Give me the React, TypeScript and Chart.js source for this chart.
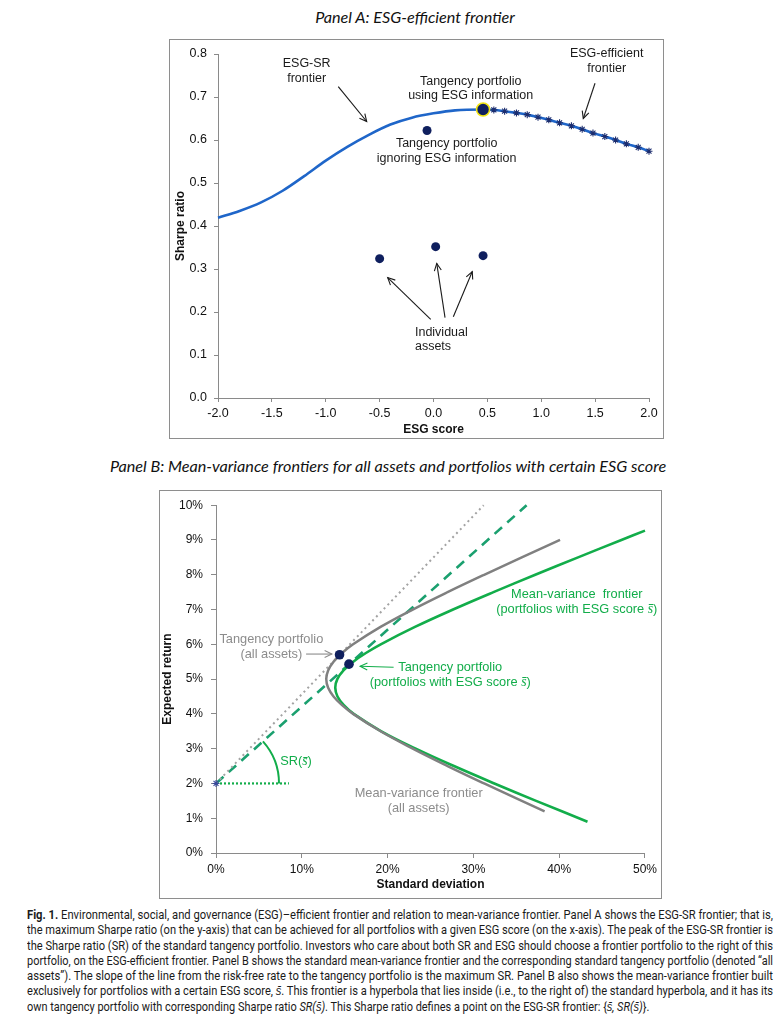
import React, { useEffect, useLayoutEffect, useRef, useState } from "react";
import { Chart, registerables } from "chart.js";

Chart.register(...registerables);

// ---------------- Panel A data ----------------
const esgSrX = [-2.0, -1.8, -1.6, -1.4, -1.2, -1.0, -0.8, -0.6, -0.4, -0.2, 0.0, 0.2, 0.46];
const esgSrY = [0.419, 0.435, 0.455, 0.482, 0.516, 0.552, 0.584, 0.612, 0.636, 0.652, 0.662, 0.669, 0.671];
const efficientX = [0.56, 0.66, 0.77, 0.87, 0.97, 1.07, 1.17, 1.28, 1.38, 1.48, 1.59, 1.69, 1.79, 1.9, 2.0];
const efficientY = [0.67, 0.667, 0.663, 0.659, 0.653, 0.647, 0.64, 0.633, 0.625, 0.616, 0.608, 0.6, 0.591, 0.583, 0.574];
const tangencyEsgX = [0.46];
const tangencyEsgY = [0.671];
const tangencyIgnoreX = [-0.06];
const tangencyIgnoreY = [0.622];
const assetsX = [-0.5, 0.02, 0.46];
const assetsY = [0.324, 0.352, 0.331];
const esgTicks = [-2.0, -1.5, -1.0, -0.5, 0.0, 0.5, 1.0, 1.5, 2.0];
const srTicks = [0.0, 0.1, 0.2, 0.3, 0.4, 0.5, 0.6, 0.7, 0.8];

// ---------------- Panel B data (percent) ----------------
const greyRet = [1.2, 1.5, 2.0, 2.5, 3.0, 3.5, 4.0, 4.25, 4.5, 4.75, 5.0, 5.25, 5.5, 5.75, 6.0, 6.5, 7.0, 7.5, 8.0, 8.5, 9.0];
const greySd = [38.3, 35.64, 31.25, 26.99, 22.93, 19.18, 15.98, 14.69, 13.7, 13.07, 12.85, 13.07, 13.7, 14.69, 15.98, 19.18, 22.93, 26.99, 31.25, 35.64, 40.1];
const greenRet = [0.9, 1.5, 2.0, 2.5, 3.0, 3.5, 4.0, 4.25, 4.5, 4.755, 5.0, 5.25, 5.5, 5.75, 6.0, 6.5, 7.0, 7.5, 8.0, 8.5, 9.0, 9.27];
const greenSd = [43.3, 37.31, 32.44, 27.73, 23.28, 19.27, 16.05, 14.9, 14.16, 13.9, 14.14, 14.86, 16.0, 17.47, 19.2, 23.19, 27.63, 32.34, 37.21, 42.2, 47.25, 50.0];
const tangencySd = [14.4, 15.5];
const tangencyRet = [5.7, 5.43];
const riskFreeSd = [0];
const riskFreeRet = [2];
const cmlAllSd = [0, 31.2];
const cmlAllRet = [2, 10];
const cmlEsgSd = [0, 36.2];
const cmlEsgRet = [2, 10];
const rfHorizSd = [0, 8.5];
const rfHorizRet = [2, 2];
const sdTicks = [0, 10, 20, 30, 40, 50];
const retTicks = [0, 1, 2, 3, 4, 5, 6, 7, 8, 9, 10];

const FONT = "'Liberation Sans', Arial, sans-serif";
const NAVY = "#0f1f5e";
const AXIS = "#8a8a8a";
const GREEN = "#12ad4a";
const GREY = "#808080";

const pts = (xs: number[], ys: number[]) => xs.map((x, i) => ({ x, y: ys[i] }));

type Seg = { t: string; it?: boolean };
type TextAnn = { kind: "text"; x: number; y: number; lines: Seg[][]; color: string; align?: "center" | "left" };
type ArrowAnn = { kind: "arrow"; x1: number; y1: number; x2: number; y2: number; color: string };
type Ann = TextAnn | ArrowAnn;

function drawArrow(ctx: CanvasRenderingContext2D, x1: number, y1: number, x2: number, y2: number, color: string) {
  ctx.save();
  ctx.strokeStyle = color;
  ctx.lineWidth = 1.1;
  ctx.beginPath();
  ctx.moveTo(x1, y1);
  ctx.lineTo(x2, y2);
  ctx.stroke();
  const a = Math.atan2(y2 - y1, x2 - x1);
  const h = 8;
  ctx.beginPath();
  ctx.moveTo(x2 - h * Math.cos(a - 0.45), y2 - h * Math.sin(a - 0.45));
  ctx.lineTo(x2, y2);
  ctx.lineTo(x2 - h * Math.cos(a + 0.45), y2 - h * Math.sin(a + 0.45));
  ctx.stroke();
  ctx.restore();
}

function drawRich(ctx: CanvasRenderingContext2D, segs: Seg[], x: number, y: number, size: number, color: string, align: "center" | "left") {
  const fonts = segs.map((s) => (s.it ? `italic ${size + 1}px 'Liberation Serif', serif` : `${size}px ${FONT}`));
  const widths = segs.map((s, i) => {
    ctx.font = fonts[i];
    return ctx.measureText(s.t).width;
  });
  const total = widths.reduce((a, b) => a + b, 0);
  let cx = align === "center" ? x - total / 2 : x;
  ctx.fillStyle = color;
  ctx.textBaseline = "middle";
  ctx.textAlign = "left";
  segs.forEach((s, i) => {
    ctx.font = fonts[i];
    ctx.fillText(s.t, cx, y);
    cx += widths[i];
  });
}

function annotationPlugin(id: string, anns: Ann[], size: number, lineGap: number, xTitle: string, yTitle: string, xTitleOff: number, yTitleOff: number, extra?: (chart: any) => void) {
  return {
    id,
    afterDatasetsDraw(chart: any) {
      const ctx: CanvasRenderingContext2D = chart.ctx;
      const xs = chart.scales.x;
      const ys = chart.scales.y;
      if (extra) extra(chart);
      anns.forEach((a) => {
        if (a.kind === "arrow") {
          drawArrow(ctx, xs.getPixelForValue(a.x1), ys.getPixelForValue(a.y1), xs.getPixelForValue(a.x2), ys.getPixelForValue(a.y2), a.color);
        } else {
          const px = xs.getPixelForValue(a.x);
          const py = ys.getPixelForValue(a.y);
          a.lines.forEach((ln, i) => drawRich(ctx, ln, px, py + i * lineGap, size, a.color, a.align || "center"));
        }
      });
      const area = chart.chartArea;
      ctx.save();
      ctx.fillStyle = "#111";
      ctx.font = `bold 12px ${FONT}`;
      ctx.textAlign = "center";
      ctx.textBaseline = "middle";
      ctx.fillText(xTitle, (area.left + area.right) / 2, area.bottom + xTitleOff);
      ctx.translate(area.left - yTitleOff, (area.top + area.bottom) / 2);
      ctx.rotate(-Math.PI / 2);
      ctx.fillText(yTitle, 0, 0);
      ctx.restore();
    },
  };
}

function axisOpts(ticks: number[], min: number, max: number, fmt: (v: number) => string, size: number, tickLen: number, pad: number, fit: (s: any) => void) {
  return {
    type: "linear" as const,
    min,
    max,
    afterBuildTicks: (scale: any) => {
      scale.ticks = ticks.map((v) => ({ value: v }));
    },
    afterFit: fit,
    grid: { display: true, drawOnChartArea: false, drawTicks: true, tickLength: tickLen, color: AXIS, lineWidth: 1 },
    border: { display: true, color: AXIS, width: 1 },
    ticks: { autoSkip: false, maxRotation: 0, padding: pad, color: "#111", font: { family: FONT, size }, callback: (v: any) => fmt(Number(v)) },
  };
}

const panelAAnns: Ann[] = [
  { kind: "text", x: -1.177, y: 0.777, lines: [[{ t: "ESG-SR" }], [{ t: "frontier" }]], color: "#1a1a1a" },
  { kind: "arrow", x1: -0.884, y1: 0.724, x2: -0.62, y2: 0.643, color: "#1a1a1a" },
  { kind: "text", x: 1.607, y: 0.8, lines: [[{ t: "ESG-efficient" }], [{ t: "frontier" }]], color: "#1a1a1a" },
  { kind: "arrow", x1: 1.499, y1: 0.732, x2: 1.39, y2: 0.65, color: "#1a1a1a" },
  { kind: "text", x: 0.345, y: 0.736, lines: [[{ t: "Tangency portfolio" }], [{ t: "using ESG information" }]], color: "#1a1a1a" },
  { kind: "text", x: 0.122, y: 0.591, lines: [[{ t: "Tangency portfolio" }], [{ t: "ignoring ESG information" }]], color: "#1a1a1a" },
  { kind: "text", x: -0.172, y: 0.153, lines: [[{ t: "Individual" }], [{ t: "assets" }]], color: "#1a1a1a", align: "left" },
  { kind: "arrow", x1: -0.026, y1: 0.183, x2: -0.425, y2: 0.28, color: "#1a1a1a" },
  { kind: "arrow", x1: 0.107, y1: 0.187, x2: 0.03, y2: 0.313, color: "#1a1a1a" },
  { kind: "arrow", x1: 0.184, y1: 0.189, x2: 0.36, y2: 0.294, color: "#1a1a1a" },
];

const S_BAR = "s\u0304";

const panelBAnns: Ann[] = [
  { kind: "text", x: 6.45, y: 6.15, lines: [[{ t: "Tangency portfolio" }], [{ t: "(all assets)" }]], color: "#8c8c8c" },
  { kind: "arrow", x1: 10.5, y1: 5.72, x2: 13.5, y2: 5.72, color: "#8c8c8c" },
  { kind: "text", x: 27.3, y: 5.34, lines: [[{ t: "Tangency portfolio" }], [{ t: "(portfolios with ESG score " }, { t: S_BAR, it: true }, { t: ")" }]], color: GREEN },
  { kind: "arrow", x1: 20.7, y1: 5.34, x2: 16.8, y2: 5.37, color: GREEN },
  { kind: "text", x: 42.05, y: 7.44, lines: [[{ t: "Mean-variance  frontier" }], [{ t: "(portfolios with ESG score " }, { t: S_BAR, it: true }, { t: ")" }]], color: GREEN },
  { kind: "text", x: 23.62, y: 1.71, lines: [[{ t: "Mean-variance frontier" }], [{ t: "(all assets)" }]], color: "#8c8c8c" },
  { kind: "text", x: 9.33, y: 2.63, lines: [[{ t: "SR(" }, { t: S_BAR, it: true }, { t: ")" }]], color: GREEN },
];

function panelAConfig(): any {
  return {
    type: "scatter",
    data: {
      datasets: [
        { data: pts(tangencyEsgX, tangencyEsgY), pointRadius: 6.5, backgroundColor: NAVY, borderColor: "#f0e412", borderWidth: 1.6, clip: false },
        { data: pts(tangencyIgnoreX, tangencyIgnoreY), pointRadius: 4.5, backgroundColor: NAVY, borderColor: NAVY, borderWidth: 0 },
        { data: pts(assetsX, assetsY), pointRadius: 4.5, backgroundColor: NAVY, borderColor: NAVY, borderWidth: 0 },
        { data: pts(efficientX, efficientY), pointStyle: "star", pointRadius: 3.5, borderColor: "#1c2d6e", backgroundColor: "#1c2d6e", borderWidth: 1.1, clip: false },
        {
          data: pts(esgSrX.concat(efficientX), esgSrY.concat(efficientY)),
          showLine: true,
          pointRadius: 0,
          borderColor: "#1f66c9",
          borderWidth: 2.6,
          tension: 0.4,
          cubicInterpolationMode: "monotone",
          clip: false,
        },
      ],
    },
    options: {
      responsive: false,
      animation: false,
      devicePixelRatio: 1,
      layout: { padding: { top: 15, right: 14, left: 0, bottom: 0 } },
      plugins: { legend: { display: false }, tooltip: { enabled: false } },
      scales: {
        x: { ...axisOpts(esgTicks, -2, 2, (v) => v.toFixed(1), 12.5, 4, 4, (s: any) => { s.height = 40; }), position: "bottom" },
        y: { ...axisOpts(srTicks, 0, 0.8, (v) => v.toFixed(1), 12.5, 4, 7, (s: any) => { s.width = 49; }) },
      },
    },
    plugins: [annotationPlugin("annA", panelAAnns, 12.5, 14.5, "ESG score", "Sharpe ratio", 32, 37)],
  };
}

function panelBConfig(): any {
  const arc = (chart: any) => {
    const ctx: CanvasRenderingContext2D = chart.ctx;
    const xs = chart.scales.x;
    const ys = chart.scales.y;
    const cx = xs.getPixelForValue(cmlEsgSd[0]);
    const cy = ys.getPixelForValue(cmlEsgRet[0]);
    const ex = xs.getPixelForValue(cmlEsgSd[1]);
    const ey = ys.getPixelForValue(cmlEsgRet[1]);
    const ang = Math.atan2(ey - cy, ex - cx);
    ctx.save();
    ctx.strokeStyle = GREEN;
    ctx.lineWidth = 2;
    ctx.beginPath();
    ctx.arc(cx, cy, 63, ang, 0);
    ctx.stroke();
    ctx.restore();
  };
  return {
    type: "scatter",
    data: {
      datasets: [
        { data: pts(tangencySd, tangencyRet), pointRadius: 4.8, backgroundColor: NAVY, borderColor: NAVY, borderWidth: 0 },
        { data: pts(riskFreeSd, riskFreeRet), pointStyle: "star", pointRadius: 3.5, borderColor: "#3a4a9a", borderWidth: 1.1, clip: false },
        { data: pts(greySd, greyRet), showLine: true, pointRadius: 0, borderColor: GREY, borderWidth: 2.5, tension: 0.4 },
        { data: pts(greenSd, greenRet), showLine: true, pointRadius: 0, borderColor: GREEN, borderWidth: 2.6, tension: 0.4, clip: false },
        { data: pts(cmlAllSd, cmlAllRet), showLine: true, pointRadius: 0, borderColor: "#a3a3a3", borderWidth: 2, borderDash: [2, 3.5], clip: false },
        { data: pts(cmlEsgSd, cmlEsgRet), showLine: true, pointRadius: 0, borderColor: "#1ba06f", borderWidth: 2.6, borderDash: [10, 7], clip: false },
        { data: pts(rfHorizSd, rfHorizRet), showLine: true, pointRadius: 0, borderColor: GREEN, borderWidth: 2.2, borderDash: [2, 2], clip: false },
      ],
    },
    options: {
      responsive: false,
      animation: false,
      devicePixelRatio: 1,
      layout: { padding: { top: 14, right: 12, left: 0, bottom: 0 } },
      plugins: { legend: { display: false }, tooltip: { enabled: false } },
      scales: {
        x: { ...axisOpts(sdTicks, 0, 50, (v) => `${v}%`, 12, 5, 4, (s: any) => { s.height = 45; }), position: "bottom" },
        y: { ...axisOpts(retTicks, 0, 10, (v) => `${v}%`, 12, 5, 8, (s: any) => { s.width = 57; }) },
      },
    },
    plugins: [annotationPlugin("annB", panelBAnns, 12.8, 15, "Standard deviation", "Expected return", 32, 48, arc)],
  };
}

function ChartCanvas({ make, left, top, width, height }: { make: () => any; left: number; top: number; width: number; height: number }) {
  const ref = useRef<HTMLCanvasElement>(null);
  useEffect(() => {
    if (!ref.current) return;
    const chart = new Chart(ref.current, make());
    return () => chart.destroy();
  }, []);
  return <canvas ref={ref} width={width} height={height} style={{ position: "absolute", left, top, width, height }} />;
}

type CSeg = { t: string; b?: boolean; i?: boolean };
const captionLines: CSeg[][] = [
  [{ t: "Fig. 1.", b: true }, { t: " Environmental, social, and governance (ESG)\u2013efficient frontier and relation to mean-variance frontier. Panel A shows the ESG-SR frontier; that is," }],
  [{ t: "the maximum Sharpe ratio (on the y-axis) that can be achieved for all portfolios with a given ESG score (on the x-axis). The peak of the ESG-SR frontier is" }],
  [{ t: "the Sharpe ratio (SR) of the standard tangency portfolio. Investors who care about both SR and ESG should choose a frontier portfolio to the right of this" }],
  [{ t: "portfolio, on the ESG-efficient frontier. Panel B shows the standard mean-variance frontier and the corresponding standard tangency portfolio (denoted \u201call" }],
  [{ t: "assets\u201d). The slope of the line from the risk-free rate to the tangency portfolio is the maximum SR. Panel B also shows the mean-variance frontier built" }],
  [{ t: "exclusively for portfolios with a certain ESG score, " }, { t: S_BAR, i: true }, { t: ". This frontier is a hyperbola that lies inside (i.e., to the right of) the standard hyperbola, and it has its" }],
  [{ t: "own tangency portfolio with corresponding Sharpe ratio " }, { t: "SR(" + S_BAR + ")", i: true }, { t: ". This Sharpe ratio defines a point on the ESG-SR frontier: {" }, { t: S_BAR + ", SR(" + S_BAR + ")", i: true }, { t: "}." }],
];

function Caption({ left, top, width }: { left: number; top: number; width: number }) {
  const refs = useRef<(HTMLSpanElement | null)[]>([]);
  const [adj, setAdj] = useState<{ ws: number; sx: number }[] | null>(null);
  useLayoutEffect(() => {
    const res = captionLines.map((_, i) => {
      const el = refs.current[i];
      const w = el ? el.getBoundingClientRect().width : width;
      const spaces = ((el?.textContent || "").match(/ /g) || []).length || 1;
      if (w <= width) return { ws: (width - w) / spaces, sx: 1 };
      return { ws: 0, sx: width / w };
    });
    const sxs = res.slice(0, -1).map((r) => r.sx);
    res[res.length - 1] = { ws: 0, sx: Math.min(...sxs) };
    setAdj(res);
  }, []);
  return (
    <div style={{ position: "absolute", left, top, width, fontFamily: "Roboto, 'Liberation Sans', sans-serif", fontSize: 12.4, lineHeight: "15.3px", color: "#1a1a1a" }}>
      {captionLines.map((ln, i) => (
        <div key={i} style={{ whiteSpace: "nowrap", height: 15.3 }}>
          <span
            ref={(el) => { refs.current[i] = el; }}
            style={{
              display: "inline-block",
              wordSpacing: adj ? adj[i].ws : 0,
              transform: adj ? `scaleX(${adj[i].sx})` : undefined,
              transformOrigin: "left center",
            }}
          >
            {ln.map((s, j) => (
              <span key={j} style={{ fontWeight: s.b ? "bold" : "normal", fontStyle: s.i ? "italic" : "normal" }}>{s.t}</span>
            ))}
          </span>
        </div>
      ))}
    </div>
  );
}

export default function App() {
  const titleStyle: React.CSSProperties = { position: "absolute", fontFamily: "Lato, 'Open Sans', sans-serif", fontStyle: "italic", fontSize: 16.2, color: "#111", whiteSpace: "nowrap", lineHeight: "20px" };
  const frame: React.CSSProperties = { position: "absolute", border: "1px solid #8e8e8e", boxSizing: "border-box", pointerEvents: "none" };
  return (
    <div style={{ position: "absolute", left: 0, top: 0, width: 779, height: 1015, overflow: "hidden", background: "#fff" }}>
      <div style={{ ...titleStyle, left: 0, width: 830, top: 7, textAlign: "center" }}>Panel A: ESG-efficient frontier</div>
      <ChartCanvas make={panelAConfig} left={169} top={39} width={494} height={399} />
      <div style={{ ...frame, left: 169, top: 39, width: 495, height: 400 }} />
      <div style={{ ...titleStyle, left: 110, top: 456 }}>Panel B: Mean-variance frontiers for all assets and portfolios with certain ESG score</div>
      <ChartCanvas make={panelBConfig} left={159} top={490} width={502} height={408} />
      <div style={{ ...frame, left: 159, top: 490, width: 503, height: 409 }} />
      <Caption left={27} top={907} width={746} />
    </div>
  );
}
